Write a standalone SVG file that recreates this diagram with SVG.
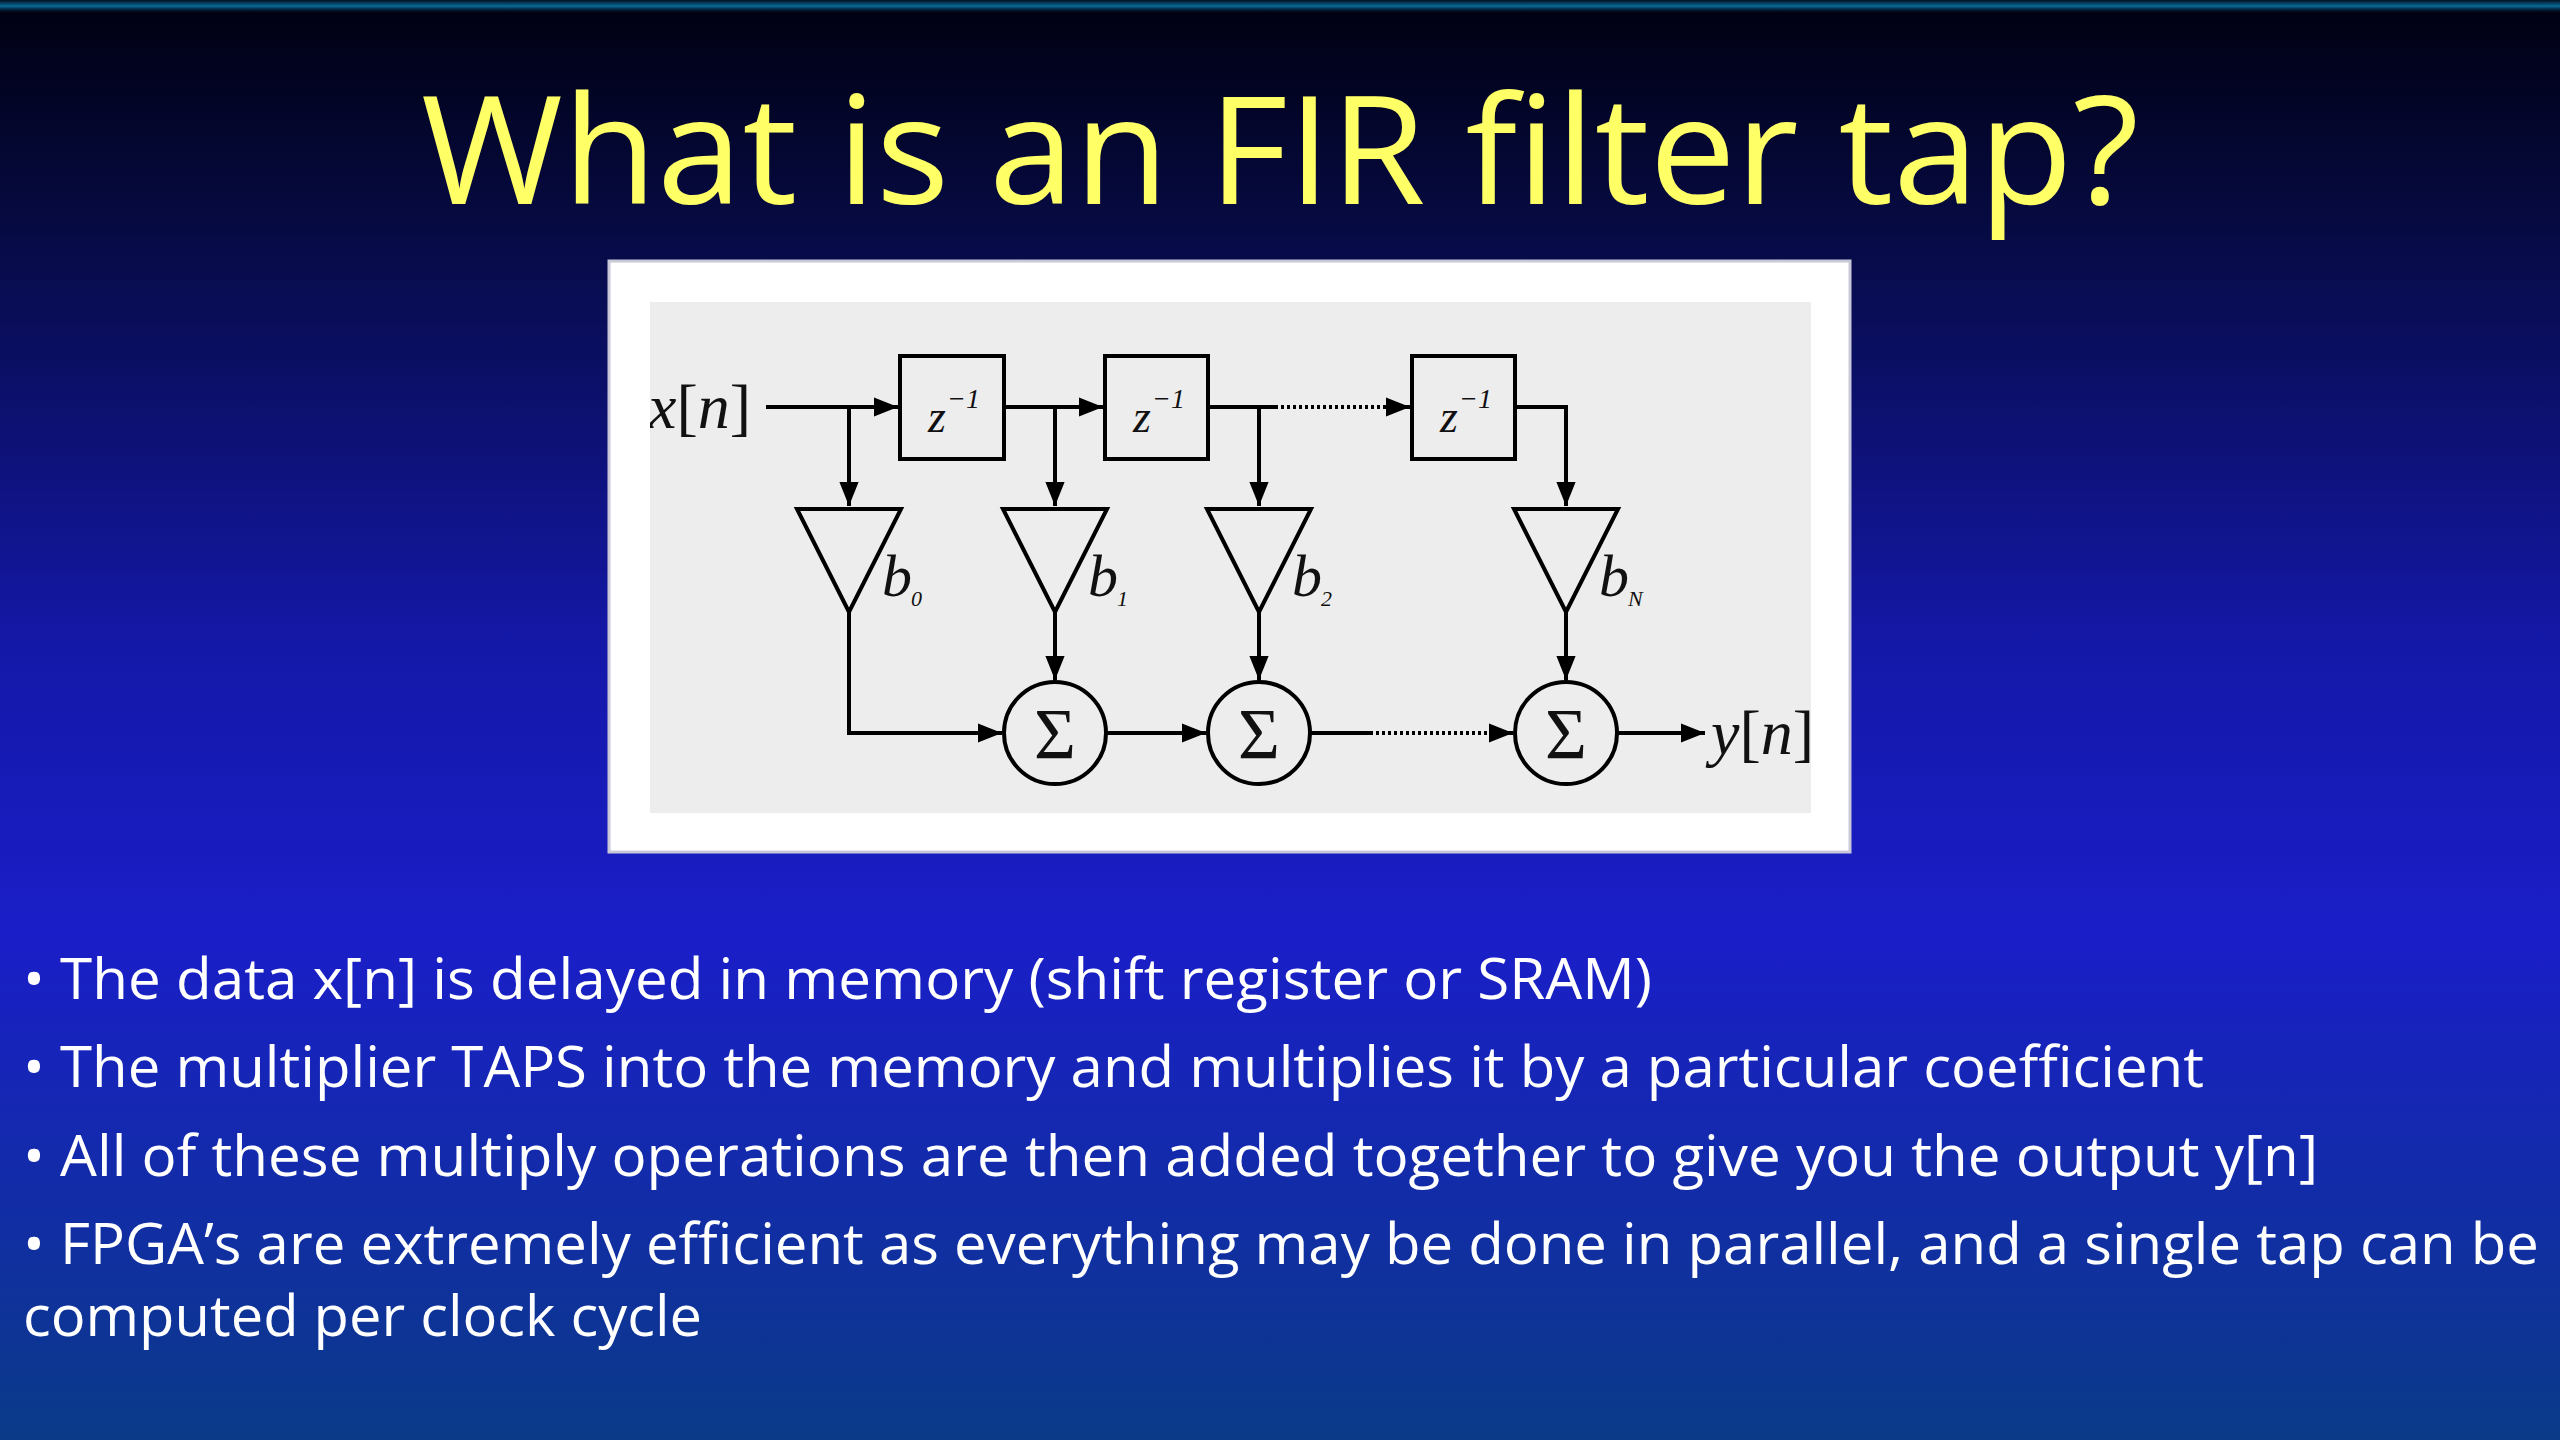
<svg xmlns="http://www.w3.org/2000/svg" width="2560" height="1440" viewBox="0 0 2560 1440">
<defs>
<linearGradient id="bg" x1="0" y1="0" x2="0" y2="1">
<stop offset="0" stop-color="#000010"/>
<stop offset="0.15" stop-color="#060a40"/>
<stop offset="0.45" stop-color="#1418a8"/>
<stop offset="0.65" stop-color="#1a1ec8"/>
<stop offset="1" stop-color="#0a3a88"/>
</linearGradient>
<linearGradient id="top" x1="0" y1="0" x2="0" y2="1">
<stop offset="0" stop-color="#001020"/>
<stop offset="0.45" stop-color="#0a6a98"/>
<stop offset="1" stop-color="#000010" stop-opacity="0"/>
</linearGradient>
<marker id="a" viewBox="0 0 10 10" refX="10" refY="5" markerWidth="6" markerHeight="6" orient="auto">
<path d="M0,1 L10,5 L0,9 z" fill="#000"/>
</marker>
<clipPath id="clip"><rect x="650" y="302" width="1161" height="511"/></clipPath>
</defs>
<style>
.ln{stroke:#000;stroke-width:4;fill:none}
.dot{stroke:#000;stroke-width:4;fill:none;stroke-dasharray:3 3}
.box{fill:none;stroke:#000;stroke-width:4}
.mt{font-family:"Liberation Serif",serif;font-style:italic;fill:#111}
.sg{font-family:"Liberation Serif",serif;font-size:72px;fill:#111;text-anchor:middle}
.bul{font-family:"Open Sans","Liberation Sans",sans-serif;font-size:56px;fill:#fff}
</style>
<rect width="2560" height="1440" fill="url(#bg)"/>
<rect width="2560" height="14" fill="url(#top)"/>
<text x="1280" y="204" text-anchor="middle" font-family="Open Sans, Liberation Sans, sans-serif" font-size="150" fill="#ffff66" textLength="1718" lengthAdjust="spacingAndGlyphs">What is an FIR filter tap?</text>
<rect x="609" y="261" width="1241" height="591" fill="#fff" stroke="#c8c8d8" stroke-width="3"/>
<rect x="650" y="302" width="1161" height="511" fill="#ededed"/>
<g clip-path="url(#clip)">
<g id="connectors">
<path class="ln" d="M766,407 H898" marker-end="url(#a)"/>
<path class="ln" d="M1004,407 H1103" marker-end="url(#a)"/>
<path class="ln" d="M1208,407 H1275"/>
<path class="dot" d="M1275,407 H1390"/>
<path class="ln" d="M1388,407 H1410" marker-end="url(#a)"/>
<path class="ln" d="M1515,407 H1566 V506" marker-end="url(#a)"/>
<path class="ln" d="M849,407 V506" marker-end="url(#a)"/>
<path class="ln" d="M1055,407 V506" marker-end="url(#a)"/>
<path class="ln" d="M1259,407 V506" marker-end="url(#a)"/>
<path class="ln" d="M849,612 V733 H1002" marker-end="url(#a)"/>
<path class="ln" d="M1055,612 V680" marker-end="url(#a)"/>
<path class="ln" d="M1259,612 V680" marker-end="url(#a)"/>
<path class="ln" d="M1566,612 V680" marker-end="url(#a)"/>
<path class="ln" d="M1106,733 H1206" marker-end="url(#a)"/>
<path class="ln" d="M1310,733 H1370"/>
<path class="dot" d="M1370,733 H1495"/>
<path class="ln" d="M1493,733 H1513" marker-end="url(#a)"/>
<path class="ln" d="M1617,733 H1705" marker-end="url(#a)"/>
</g>
<g id="delay1"><rect class="box" x="900" y="356" width="104" height="103"/><text class="mt" x="928" y="432" font-size="46">z</text><text class="mt" x="947" y="408" font-size="28">−1</text></g>
<g id="delay2"><rect class="box" x="1105" y="356" width="103" height="103"/><text class="mt" x="1133" y="432" font-size="46">z</text><text class="mt" x="1152" y="408" font-size="28">−1</text></g>
<g id="delay3"><rect class="box" x="1412" y="356" width="103" height="103"/><text class="mt" x="1440" y="432" font-size="46">z</text><text class="mt" x="1459" y="408" font-size="28">−1</text></g>
<g id="mul0"><path class="box" d="M797,509 H901 L849,612 Z"/><text class="mt" x="882" y="596" font-size="60">b</text><text class="mt" x="911" y="606" font-size="22">0</text></g>
<g id="mul1"><path class="box" d="M1003,509 H1107 L1055,612 Z"/><text class="mt" x="1088" y="596" font-size="60">b</text><text class="mt" x="1117" y="606" font-size="22">1</text></g>
<g id="mul2"><path class="box" d="M1207,509 H1311 L1259,612 Z"/><text class="mt" x="1292" y="596" font-size="60">b</text><text class="mt" x="1321" y="606" font-size="22">2</text></g>
<g id="mulN"><path class="box" d="M1514,509 H1618 L1566,612 Z"/><text class="mt" x="1599" y="596" font-size="60">b</text><text class="mt" x="1628" y="606" font-size="22">N</text></g>
<g id="sum1"><circle class="box" cx="1055" cy="733" r="51"/><text class="sg" x="1055" y="758">Σ</text></g>
<g id="sum2"><circle class="box" cx="1259" cy="733" r="51"/><text class="sg" x="1259" y="758">Σ</text></g>
<g id="sum3"><circle class="box" cx="1566" cy="733" r="51"/><text class="sg" x="1566" y="758">Σ</text></g>
<g id="xin"><text x="648" y="428" font-family="Liberation Serif,serif" font-size="64" fill="#111"><tspan font-style="italic">x</tspan>[<tspan font-style="italic">n</tspan>]</text></g>
<g id="yout"><text x="1711" y="754" font-family="Liberation Serif,serif" font-size="64" fill="#111"><tspan font-style="italic">y</tspan>[<tspan font-style="italic">n</tspan>]</text></g>
</g>
<text class="bul" x="23" y="999" textLength="1629" lengthAdjust="spacingAndGlyphs">• The data x[n] is delayed in memory (shift register or SRAM)</text>
<text class="bul" x="23" y="1087" textLength="2181" lengthAdjust="spacingAndGlyphs">• The multiplier TAPS into the memory and multiplies it by a particular coefficient</text>
<text class="bul" x="23" y="1176" textLength="2295" lengthAdjust="spacingAndGlyphs">• All of these multiply operations are then added together to give you the output y[n]</text>
<text class="bul" x="23" y="1264" textLength="2516" lengthAdjust="spacingAndGlyphs">• FPGA’s are extremely efficient as everything may be done in parallel, and a single tap can be</text>
<text class="bul" x="23" y="1336" textLength="679" lengthAdjust="spacingAndGlyphs">computed per clock cycle</text>
</svg>
